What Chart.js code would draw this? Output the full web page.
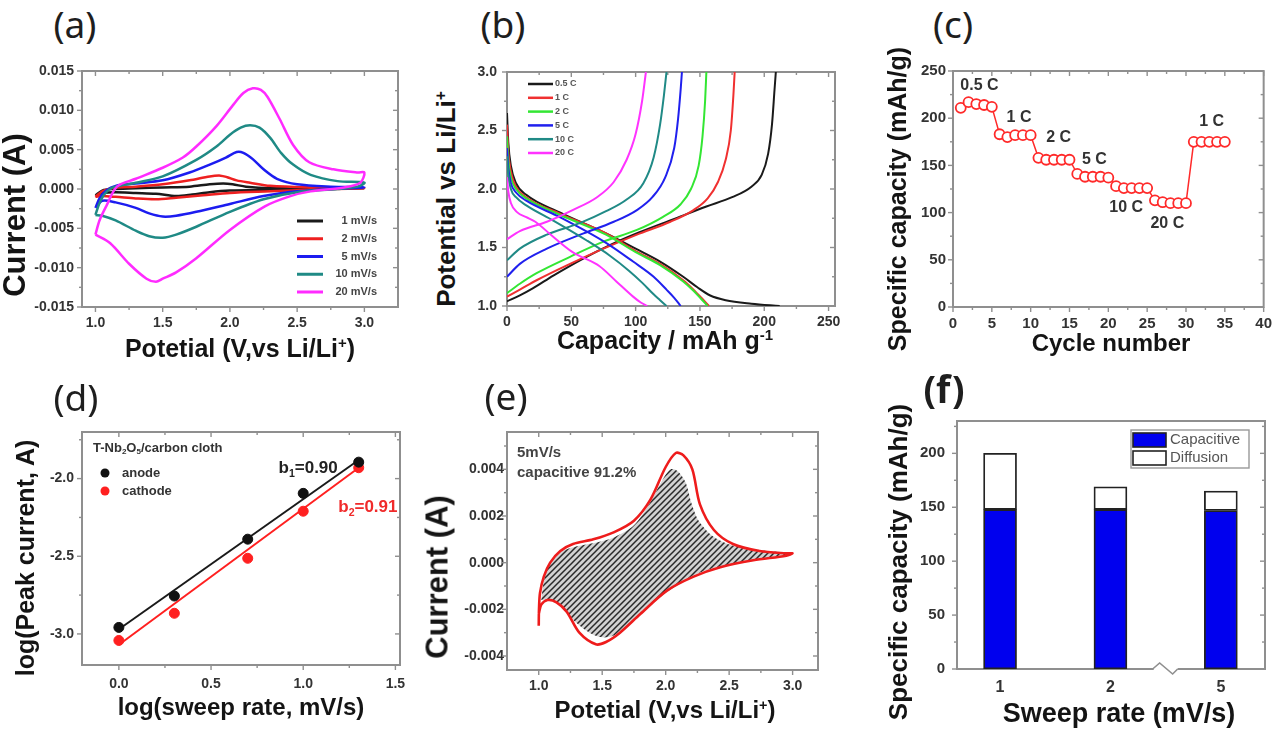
<!DOCTYPE html>
<html>
<head>
<meta charset="utf-8">
<title>T-Nb2O5 / carbon cloth</title>
<script src="https://cdn.jsdelivr.net/npm/chart.js@4.4.1/dist/chart.umd.min.js"></script>
<style>
  html, body { margin: 0; padding: 0; background: #fff; }
  body { position: relative; width: 1280px; height: 733px; overflow: hidden; font-family: 'Liberation Sans', Arial, sans-serif; }
  canvas { position: absolute; }
  .lab { position: absolute; transform: translate(-50%, -50%); font-family: 'Noto Sans', sans-serif; font-size: 37px; color: #1e1e1e; white-space: nowrap; line-height: 1; }
  .ttl { position: absolute; transform: translate(-50%, -50%); font-weight: bold; color: #141414; white-space: nowrap; line-height: 1; }
  .ttl.v { transform: translate(-50%, -50%) rotate(-90deg); }
  .ttl sup { font-size: 0.6em; vertical-align: 0.55em; line-height: 0; }
</style>
</head>
<body>
<canvas id="ca" width="425" height="290" style="left:0px;top:50px"></canvas>
<canvas id="cb" width="385" height="290" style="left:465px;top:50px"></canvas>
<canvas id="cc" width="375" height="290" style="left:905px;top:50px"></canvas>
<canvas id="cd" width="425" height="290" style="left:0px;top:415px"></canvas>
<canvas id="ce" width="395" height="290" style="left:450px;top:415px"></canvas>
<canvas id="cf" width="375" height="305" style="left:905px;top:400px"></canvas>

<div class="lab" style="left:75px;top:23px">(a)</div>
<div class="lab" style="left:503px;top:23px">(b)</div>
<div class="lab" style="left:953px;top:23px">(c)</div>
<div class="lab" style="left:76px;top:396px">(d)</div>
<div class="lab" style="left:506px;top:395px">(e)</div>
<div class="lab" style="left:944px;top:388px;font-weight:bold">(f)</div>

<div class="ttl v" style="left:14px;top:215px;font-size:31px">Current (A)</div>
<div class="ttl" style="left:240px;top:348px;font-size:25px">Potetial (V,vs Li/Li<sup>+</sup>)</div>
<div class="ttl v" style="left:446px;top:199px;font-size:26px">Potential vs Li/Li<sup>+</sup></div>
<div class="ttl" style="left:665px;top:340px;font-size:25px">Capacity / mAh g<sup>-1</sup></div>
<div class="ttl v" style="left:897px;top:199px;font-size:25px">Specific capacity (mAh/g)</div>
<div class="ttl" style="left:1111px;top:343px;font-size:24px">Cycle number</div>
<div class="ttl v" style="left:25px;top:558px;font-size:25px">log(Peak current, A)</div>
<div class="ttl" style="left:241px;top:707px;font-size:24px">log(sweep rate, mV/s)</div>
<div class="ttl v" style="left:437px;top:577px;font-size:31px">Current (A)</div>
<div class="ttl" style="left:665px;top:710px;font-size:24px">Potetial (V,vs Li/Li<sup>+</sup>)</div>
<div class="ttl v" style="left:898px;top:562px;font-size:26px">Specific capacity (mAh/g)</div>
<div class="ttl" style="left:1119px;top:713px;font-size:27px">Sweep rate (mV/s)</div>

<script>
// ---- (a) CV at several sweep rates: [V, A], anodic branch then cathodic branch
const cvRates = ['1 mV/s', '2 mV/s', '5 mV/s', '10 mV/s', '20 mV/s'];
const cv1 = [[1.0,-0.0008],[1.05,-0.0002],[1.12,0.0],[1.3,0.0001],[1.5,0.0002],[1.7,0.0003],[1.85,0.0006],[1.95,0.0007],[2.02,0.0006],[2.12,0.0003],[2.3,0.0001],[2.6,0.0001],[3.0,0.0001],
  [2.6,0.0],[2.3,-0.0001],[2.0,-0.0002],[1.85,-0.0004],[1.72,-0.0007],[1.6,-0.0009],[1.45,-0.0006],[1.3,-0.0005],[1.15,-0.0004],[1.05,-0.0005],[1.0,-0.0008]];
const cv2 = [[1.0,-0.0010],[1.05,-0.0003],[1.12,0.0001],[1.3,0.0003],[1.5,0.0006],[1.7,0.0011],[1.85,0.0016],[1.93,0.0017],[1.98,0.0015],[2.05,0.0011],[2.15,0.0008],[2.3,0.0004],[2.6,0.0002],[3.0,0.0001],
  [2.6,-0.0001],[2.3,-0.0003],[2.0,-0.0005],[1.8,-0.0008],[1.6,-0.0011],[1.45,-0.0013],[1.3,-0.0012],[1.15,-0.0010],[1.05,-0.0009],[1.0,-0.0010]];
const cv5 = [[1.0,-0.0024],[1.03,-0.0012],[1.08,-0.0002],[1.15,0.0004],[1.3,0.0007],[1.5,0.0011],[1.7,0.0021],[1.85,0.0031],[1.97,0.0040],[2.05,0.0047],[2.1,0.0046],[2.17,0.0038],[2.25,0.0025],[2.35,0.0013],[2.5,0.0006],[2.75,0.0003],[3.0,0.0002],
  [2.75,0.0],[2.5,-0.0003],[2.25,-0.0009],[2.0,-0.0019],[1.75,-0.0029],[1.6,-0.0034],[1.5,-0.0035],[1.4,-0.0031],[1.3,-0.0024],[1.15,-0.0017],[1.05,-0.0015],[1.0,-0.0024]];
const cv10 = [[1.0,-0.0033],[1.03,-0.0018],[1.07,-0.0006],[1.13,0.0002],[1.3,0.0008],[1.5,0.0016],[1.75,0.0037],[1.9,0.0054],[2.0,0.0069],[2.08,0.0078],[2.15,0.0081],[2.22,0.0078],[2.3,0.0065],[2.38,0.0046],[2.47,0.0031],[2.6,0.0018],[2.8,0.0010],[3.0,0.0008],
  [2.95,0.0003],[2.8,0.0],[2.5,-0.0004],[2.25,-0.0013],[2.0,-0.0029],[1.75,-0.0048],[1.6,-0.0058],[1.5,-0.0062],[1.4,-0.0060],[1.3,-0.0053],[1.15,-0.0040],[1.05,-0.0034],[1.0,-0.0033]];
const cv20 = [[1.0,-0.0058],[1.03,-0.0040],[1.08,-0.0022],[1.16,0.0003],[1.3,0.0013],[1.5,0.0027],[1.65,0.0040],[1.75,0.0054],[1.9,0.0080],[2.02,0.0106],[2.1,0.0122],[2.17,0.0128],[2.23,0.0126],[2.28,0.0117],[2.37,0.0089],[2.47,0.0056],[2.59,0.0034],[2.77,0.0025],[2.95,0.0021],[3.0,0.0021],
  [2.97,0.0008],[2.85,0.0002],[2.6,-0.0003],[2.45,-0.0009],[2.26,-0.0022],[2.0,-0.0052],[1.75,-0.0088],[1.6,-0.0106],[1.5,-0.0114],[1.45,-0.0118],[1.38,-0.0114],[1.25,-0.0095],[1.11,-0.0069],[1.0,-0.0058]];
const cvLoops = [cv1, cv2, cv5, cv10, cv20];
const cvVTicks = [1.0, 1.5, 2.0, 2.5, 3.0];
const cvITicks = [-0.015, -0.01, -0.005, 0, 0.005, 0.01, 0.015];

// ---- (b) charge / discharge profiles: [mAh/g, V]
const gcdRates = ['0.5 C', '1 C', '2 C', '5 C', '10 C', '20 C'];
const chg05 = [[0,1.04],[10,1.09],[20,1.15],[36,1.26],[60,1.41],[80,1.52],[103,1.63],[129,1.74],[155,1.85],[175,1.93],[190,2.02],[198,2.12],[203,2.3],[206,2.55],[208,2.85],[209,3.0]];
const chg1 = [[0,1.08],[10,1.14],[23,1.22],[49,1.36],[75,1.49],[101,1.61],[127,1.72],[145,1.82],[156,1.92],[164,2.06],[170,2.25],[174,2.5],[176,2.8],[177,3.0]];
const chg2 = [[0,1.11],[10,1.19],[23,1.28],[49,1.42],[75,1.55],[101,1.65],[121,1.76],[135,1.87],[143,2.0],[149,2.2],[152,2.45],[154,2.75],[155,3.0]];
const chg5 = [[0,1.25],[10,1.36],[31,1.49],[57,1.61],[83,1.72],[101,1.82],[113,1.93],[123,2.1],[130,2.35],[133,2.6],[135,2.85],[136,3.0]];
const chg10 = [[0,1.39],[10,1.49],[31,1.61],[57,1.71],[77,1.81],[93,1.91],[106,2.05],[114,2.27],[119,2.55],[122,2.8],[124,3.0]];
const chg20 = [[0,1.57],[10,1.64],[31,1.72],[51,1.82],[70,1.93],[83,2.06],[93,2.25],[100,2.47],[105,2.75],[108,3.0]];
const dis05 = [[0,2.65],[1,2.4],[3,2.2],[7,2.05],[15,1.95],[41,1.8],[77,1.62],[100,1.49],[119,1.38],[137,1.25],[148,1.16],[158,1.09],[170,1.05],[190,1.02],[212,1.0]];
const dis1 = [[0,2.55],[1,2.32],[3,2.15],[7,2.02],[15,1.93],[41,1.79],[77,1.62],[100,1.47],[119,1.36],[137,1.22],[145,1.14],[152,1.06],[157,1.0]];
const dis2 = [[0,2.45],[1,2.25],[3,2.1],[7,2.0],[15,1.92],[41,1.78],[77,1.61],[100,1.46],[119,1.35],[137,1.21],[145,1.13],[151,1.06],[156,1.0]];
const dis5 = [[0,2.35],[1,2.18],[3,2.05],[7,1.97],[15,1.9],[41,1.76],[77,1.54],[98,1.38],[114,1.25],[124,1.14],[130,1.07],[135,1.0]];
const dis10 = [[0,2.28],[1,2.12],[3,2.0],[7,1.93],[15,1.86],[36,1.73],[62,1.56],[80,1.43],[95,1.3],[105,1.2],[114,1.1],[119,1.05],[124,1.0]];
const dis20 = [[0,2.1],[1,1.98],[3,1.88],[8,1.8],[15,1.76],[22,1.72],[35,1.6],[51,1.46],[72,1.34],[85,1.21],[98,1.08],[104,1.03],[109,1.0]];
const gcdCharge = [chg05, chg1, chg2, chg5, chg10, chg20];
const gcdDischarge = [dis05, dis1, dis2, dis5, dis10, dis20];
const capTicks = [0, 50, 100, 150, 200, 250];
const potTicks = [1.0, 1.5, 2.0, 2.5, 3.0];

// ---- (c) rate capability
const cycles = Array.from({ length: 35 }, (_, i) => i + 1);
const rateCap = [211,217,215,214,212, 183,180,182,182,182, 158,156,156,156,156, 141,138,138,138,137,
  128,126,126,126,126, 113,111,110,110,110, 175,175,175,175,175];
const rateNotes = ['0.5 C', '1 C', '2 C', '5 C', '10 C', '20 C', '1 C'];
const rateNoteAt = [[3.4,235],[8.5,201],[13.6,179],[18.2,156],[22.3,105],[27.6,88],[33.3,196]];
const cycleTicks = [0, 5, 10, 15, 20, 25, 30, 35, 40];
const specTicks = [0, 50, 100, 150, 200, 250];

// ---- (d) b-value analysis
const logRate = [0, 0.301, 0.699, 1.0, 1.301];
const anodePeak = [-2.958, -2.756, -2.39, -2.095, -1.894];
const cathodePeak = [-3.042, -2.867, -2.513, -2.21, -1.93];
const fitX = [0, 1.301];
const anodeFit = [-2.97, -1.88];
const cathodeFit = [-3.07, -1.93];
const logRateTicks = [0, 0.5, 1.0, 1.5];
const logIpTicks = [-3.0, -2.5, -2.0];

// ---- (e) 5 mV/s CV with capacitive contribution
const cvTotal = [[1.0,-0.0027],[1.002,-0.0020],[1.01,-0.0013],[1.04,-0.0006],[1.09,0.0],[1.17,0.0005],[1.27,0.0008],[1.43,0.0010],[1.59,0.0013],[1.75,0.0018],[1.88,0.0027],[2.0,0.0041],[2.08,0.0047],[2.14,0.0046],[2.21,0.0040],[2.27,0.0025],[2.38,0.0014],[2.53,0.0008],[2.74,0.0005],[2.95,0.0004],[3.0,0.0004],
  [2.95,0.0003],[2.69,0.0001],[2.43,-0.0002],[2.22,-0.0006],[2.01,-0.0012],[1.8,-0.0022],[1.64,-0.0030],[1.53,-0.0034],[1.45,-0.0035],[1.32,-0.0030],[1.22,-0.0021],[1.14,-0.0017],[1.07,-0.0016],[1.02,-0.0018],[1.0,-0.0022]];
const cvCapacitive = [[1.02,-0.0016],[1.04,-0.0008],[1.08,-0.0001],[1.15,0.0004],[1.3,0.0007],[1.48,0.0009],[1.6,0.0011],[1.75,0.0016],[1.88,0.0026],[1.97,0.0035],[2.04,0.0040],[2.1,0.0039],[2.16,0.0034],[2.2,0.0026],[2.26,0.0018],[2.38,0.0011],[2.55,0.0007],[2.8,0.0005],[3.0,0.0004],
  [2.8,0.0002],[2.6,0.0],[2.4,-0.0002],[2.2,-0.0006],[2.0,-0.0013],[1.85,-0.0020],[1.72,-0.0026],[1.6,-0.0031],[1.5,-0.0032],[1.4,-0.0030],[1.28,-0.0025],[1.18,-0.0019],[1.1,-0.0016],[1.02,-0.0016]];
const cvETicksI = [-0.004, -0.002, 0, 0.002, 0.004];

// ---- (f) capacitive / diffusion split
const sweepLabels = ['1', '2', '5'];
const sweepSlot = [1, 2, 3];
const capacitive = [148, 148, 147];
const diffusion = [52, 21, 18];
const capFTicks = [0, 50, 100, 150, 200];

// ---------------------------------------------------------------
const FONT = "'Liberation Sans', Arial, sans-serif";
Chart.defaults.font.family = FONT;
Chart.defaults.font.weight = 'bold';
Chart.defaults.font.size = 14;
Chart.defaults.color = '#333';
Chart.defaults.animation = false;
Chart.defaults.responsive = false;
Chart.defaults.devicePixelRatio = 1;
Chart.defaults.plugins.legend.display = false;
Chart.defaults.plugins.tooltip.enabled = false;
Chart.defaults.elements.point.radius = 0;

const pts = arr => arr.map(([x, y]) => ({ x, y }));

// plot box + Origin style tick marks
const framePlugin = {
  id: 'frame',
  beforeDatasetsDraw(chart, args, o) {
    const { ctx, chartArea: a, scales: { x, y } } = chart;
    const marks = s => {
      const v = s.ticks.map(t => t.value);
      const out = v.map(val => [val, 5]);
      if (v.length > 1) {
        const st = v[1] - v[0];
        for (let i = -1; i < v.length; i++) {
          const m = v[0] + (i + 0.5) * st;
          if (m > s.min && m < s.max) out.push([m, 3]);
        }
      }
      return out;
    };
    ctx.save();
    ctx.strokeStyle = '#8f8f8f';
    ctx.lineWidth = 1.4;
    const seg = (x1, y1, x2, y2) => { ctx.beginPath(); ctx.moveTo(x1, y1); ctx.lineTo(x2, y2); ctx.stroke(); };
    if (o.xTicks !== false) {
      marks(x).forEach(([v, l]) => {
        const p = x.getPixelForValue(v);
        seg(p, a.bottom, p, a.bottom + l);
        seg(p, a.top, p, a.top + l);
      });
    }
    marks(y).forEach(([v, l]) => {
      const p = y.getPixelForValue(v);
      seg(a.left - l, p, a.left, p);
      seg(a.right, p, a.right - l, p);
    });
    ctx.lineWidth = 2;
    ctx.strokeRect(a.left, a.top, a.right - a.left, a.bottom - a.top);
    ctx.restore();
  }
};
Chart.register(framePlugin);

// chart area placed on the page pixel box of each panel
function layoutFor(id, area) {
  const c = document.getElementById(id);
  const left = parseInt(c.style.left), top = parseInt(c.style.top);
  return {
    padding: { left: 0, top: area.t - top, right: left + c.width - area.r, bottom: 0 },
    yFit: s => { s.width = area.l - left; },
    xFit: s => { s.height = top + c.height - area.b; }
  };
}

function linAxis(min, max, ticks, fmt, fit, tickOpts) {
  return {
    type: 'linear', min, max, offset: false,
    grid: { display: false, drawTicks: false, offset: false },
    border: { display: false },
    afterBuildTicks: s => { s.ticks = ticks.map(value => ({ value })); },
    afterFit: fit,
    ticks: Object.assign({ autoSkip: false, maxRotation: 0, minRotation: 0, padding: 8, callback: fmt }, tickOpts || {})
  };
}

function richText(ctx, parts, x, y, size, color) {
  ctx.fillStyle = color;
  parts.forEach(p => {
    const s = p.sub ? size * 0.62 : size;
    ctx.font = 'bold ' + s + 'px ' + FONT;
    ctx.fillText(p.t, x, y + (p.sub ? size * 0.32 : 0));
    x += ctx.measureText(p.t).width;
  });
}

// ---------------------------------------------------------------
// (a)
const cvColors = ['#1a1a1a', '#ee2020', '#1c1cf0', '#1f8a85', '#ff2bff'];
(function () {
  const L = layoutFor('ca', { l: 82, t: 71, r: 398, b: 307 });
  new Chart(document.getElementById('ca'), {
    type: 'line',
    data: {
      datasets: cvLoops.map((d, i) => ({
        label: cvRates[i], data: pts(d), borderColor: cvColors[i], borderWidth: 2.5, tension: 0.3, fill: false
      })).reverse()
    },
    options: {
      layout: { padding: L.padding },
      scales: {
        x: linAxis(0.9, 3.25, cvVTicks, v => v.toFixed(1), L.xFit),
        y: linAxis(-0.015, 0.015, cvITicks, v => v.toFixed(3), L.yFit)
      }
    },
    plugins: [{
      id: 'legendA',
      afterDraw(chart) {
        const { ctx, chartArea: a } = chart;
        ctx.save();
        ctx.font = 'bold 11px ' + FONT;
        ctx.textAlign = 'right';
        ctx.textBaseline = 'middle';
        cvRates.forEach((name, i) => {
          const y = a.bottom - 86 + i * 17.75;
          ctx.strokeStyle = cvColors[i];
          ctx.lineWidth = 3;
          ctx.beginPath(); ctx.moveTo(a.right - 101, y); ctx.lineTo(a.right - 75, y); ctx.stroke();
          ctx.fillStyle = '#444';
          ctx.fillText(name, a.right - 21, y);
        });
        ctx.restore();
      }
    }]
  });
})();

// (b)
const gcdColors = ['#1a1a1a', '#f03030', '#33e633', '#2020ee', '#208a86', '#ff33ff'];
(function () {
  const L = layoutFor('cb', { l: 507, t: 72, r: 835, b: 306 });
  const sets = [];
  gcdRates.forEach((name, i) => {
    sets.push({ label: name + ' discharge', data: pts(gcdDischarge[i]), borderColor: gcdColors[i], borderWidth: 2, cubicInterpolationMode: 'monotone' });
    sets.push({ label: name + ' charge', data: pts(gcdCharge[i]), borderColor: gcdColors[i], borderWidth: 2, cubicInterpolationMode: 'monotone' });
  });
  new Chart(document.getElementById('cb'), {
    type: 'line',
    data: { datasets: sets.reverse() },
    options: {
      layout: { padding: L.padding },
      scales: {
        x: linAxis(0, 255, capTicks, v => String(v), L.xFit),
        y: linAxis(1.0, 3.0, potTicks, v => v.toFixed(1), L.yFit, { padding: 10 })
      }
    },
    plugins: [{
      id: 'legendB',
      afterDraw(chart) {
        const { ctx, chartArea: a } = chart;
        ctx.save();
        ctx.font = 'bold 9px ' + FONT;
        ctx.textBaseline = 'middle';
        gcdRates.forEach((name, i) => {
          const y = a.top + 12 + i * 13.8;
          ctx.strokeStyle = gcdColors[i];
          ctx.lineWidth = 2.5;
          ctx.beginPath(); ctx.moveTo(a.left + 21, y); ctx.lineTo(a.left + 46, y); ctx.stroke();
          ctx.fillStyle = '#555';
          ctx.fillText(name, a.left + 48, y);
        });
        ctx.restore();
      }
    }]
  });
})();

// (c)
(function () {
  const L = layoutFor('cc', { l: 953, t: 71, r: 1270, b: 307 });
  new Chart(document.getElementById('cc'), {
    type: 'line',
    data: {
      datasets: [{
        label: 'Specific capacity',
        data: cycles.map((c, i) => ({ x: c, y: rateCap[i] })),
        borderColor: '#ff2a2a', borderWidth: 1.5,
        pointRadius: 5, pointBorderWidth: 1.8, pointBorderColor: '#ff2a2a', pointBackgroundColor: '#fff'
      }]
    },
    options: {
      layout: { padding: L.padding },
      scales: {
        x: linAxis(0, 40, cycleTicks, v => String(v), L.xFit, { font: { size: 15 } }),
        y: linAxis(0, 250, specTicks, v => String(v), L.yFit, { padding: 7, font: { size: 15 } })
      }
    },
    plugins: [{
      id: 'notesC',
      afterDraw(chart) {
        const { ctx, scales: { x, y } } = chart;
        ctx.save();
        ctx.font = 'bold 16px ' + FONT;
        ctx.fillStyle = '#333';
        ctx.textAlign = 'center';
        ctx.textBaseline = 'middle';
        rateNotes.forEach((t, i) => {
          ctx.fillText(t, x.getPixelForValue(rateNoteAt[i][0]), y.getPixelForValue(rateNoteAt[i][1]));
        });
        ctx.restore();
      }
    }]
  });
})();

// (d)
(function () {
  const L = layoutFor('cd', { l: 82, t: 432, r: 400, b: 665 });
  const bLabels = [
    { parts: [{ t: 'b' }, { t: '1', sub: true }, { t: '=0.90' }], at: [0.866, -1.936], color: '#222' },
    { parts: [{ t: 'b' }, { t: '2', sub: true }, { t: '=0.91' }], at: [1.19, -2.185], color: '#f02a2a' }
  ];
  new Chart(document.getElementById('cd'), {
    type: 'line',
    data: {
      datasets: [
        { label: 'anode', data: logRate.map((x, i) => ({ x, y: anodePeak[i] })), showLine: false, pointRadius: 5, pointBackgroundColor: '#111', pointBorderColor: '#111' },
        { label: 'cathode', data: logRate.map((x, i) => ({ x, y: cathodePeak[i] })), showLine: false, pointRadius: 5, pointBackgroundColor: '#ff2020', pointBorderColor: '#ff2020' },
        { label: 'anode fit', data: fitX.map((x, i) => ({ x, y: anodeFit[i] })), borderColor: '#1a1a1a', borderWidth: 2 },
        { label: 'cathode fit', data: fitX.map((x, i) => ({ x, y: cathodeFit[i] })), borderColor: '#ff2020', borderWidth: 2 }
      ]
    },
    options: {
      layout: { padding: L.padding },
      scales: {
        x: linAxis(-0.2, 1.525, logRateTicks, v => v.toFixed(1), L.xFit, { padding: 11 }),
        y: linAxis(-3.2, -1.7, logIpTicks, v => v.toFixed(1), L.yFit)
      }
    },
    plugins: [{
      id: 'notesD',
      afterDraw(chart) {
        const { ctx, chartArea: a, scales: { x, y } } = chart;
        ctx.save();
        ctx.textBaseline = 'middle';
        ctx.textAlign = 'left';
        richText(ctx, [{ t: 'T-Nb' }, { t: '2', sub: true }, { t: 'O' }, { t: '5', sub: true }, { t: '/carbon cloth' }], a.left + 11, a.top + 16, 13, '#333');
        const dots = [['anode', '#111'], ['cathode', '#ff2020']];
        dots.forEach(([t, c], i) => {
          const yy = a.top + 41 + i * 18;
          ctx.fillStyle = c;
          ctx.beginPath(); ctx.arc(a.left + 23, yy, 4.5, 0, Math.PI * 2); ctx.fill();
          ctx.font = 'bold 13px ' + FONT;
          ctx.fillStyle = '#333';
          ctx.fillText(t, a.left + 40, yy);
        });
        bLabels.forEach(b => richText(ctx, b.parts, x.getPixelForValue(b.at[0]), y.getPixelForValue(b.at[1]), 17, b.color));
        ctx.restore();
      }
    }]
  });
})();

// (e)
(function () {
  const cv = document.getElementById('ce');
  const tile = document.createElement('canvas');
  tile.width = 6; tile.height = 6;
  const g = tile.getContext('2d');
  g.fillStyle = '#d2d2d2'; g.fillRect(0, 0, 6, 6);
  g.strokeStyle = '#2a2a2a'; g.lineWidth = 1.5;
  g.beginPath();
  g.moveTo(-1, 7); g.lineTo(7, -1);
  g.moveTo(-1, 1); g.lineTo(1, -1);
  g.moveTo(5, 7); g.lineTo(7, 5);
  g.stroke();
  const hatch = cv.getContext('2d').createPattern(tile, 'repeat');

  const L = layoutFor('ce', { l: 507, t: 432, r: 818, b: 670 });
  new Chart(cv, {
    type: 'line',
    data: {
      datasets: [
        { label: '5 mV/s', data: pts(cvTotal), borderColor: '#ee1c1c', borderWidth: 2.6, tension: 0.3, fill: false },
        { label: 'capacitive', data: pts(cvCapacitive), borderWidth: 0, borderColor: 'rgba(0,0,0,0)', backgroundColor: hatch, tension: 0.3, fill: 'shape' }
      ]
    },
    options: {
      layout: { padding: L.padding },
      scales: {
        x: linAxis(0.75, 3.2, cvVTicks, v => v.toFixed(1), L.xFit),
        y: linAxis(-0.0046, 0.0056, cvETicksI, v => v.toFixed(3), L.yFit, { padding: 3 })
      }
    },
    plugins: [{
      id: 'notesE',
      afterDraw(chart) {
        const { ctx, chartArea: a } = chart;
        ctx.save();
        ctx.font = 'bold 15px ' + FONT;
        ctx.fillStyle = '#444';
        ctx.textBaseline = 'middle';
        ctx.fillText('5mV/s', a.left + 10, a.top + 21);
        ctx.fillText('capacitive 91.2%', a.left + 10, a.top + 41);
        ctx.restore();
      }
    }]
  });
})();

// (f)
(function () {
  const L = layoutFor('cf', { l: 957, t: 418, r: 1265, b: 669 });
  new Chart(document.getElementById('cf'), {
    type: 'bar',
    data: {
      datasets: [
        { label: 'Capacitive', data: sweepSlot.map((x, i) => ({ x, y: capacitive[i] })), backgroundColor: '#0000ee', borderColor: '#222', borderWidth: 1.8, borderSkipped: false, barThickness: 33 },
        { label: 'Diffusion', data: sweepSlot.map((x, i) => ({ x, y: diffusion[i] })), backgroundColor: '#fff', borderColor: '#222', borderWidth: 1.8, borderSkipped: false, barThickness: 33 }
      ]
    },
    options: {
      layout: { padding: L.padding },
      scales: {
        x: Object.assign(linAxis(0.61, 3.4, sweepSlot, (v, i) => sweepLabels[i], L.xFit, { padding: 9, font: { size: 16 } }), { stacked: true }),
        y: Object.assign(linAxis(0, 230, capFTicks, v => String(v), L.yFit, { padding: 12, font: { size: 15 } }), { stacked: true })
      },
      plugins: { frame: { xTicks: false } }
    },
    plugins: [{
      id: 'notesF',
      afterDraw(chart) {
        const { ctx, chartArea: a, scales: { x } } = chart;
        ctx.save();
        // axis break between 2 and 5
        const px = x.getPixelForValue(2.5);
        ctx.fillStyle = '#fff';
        ctx.fillRect(px - 12, a.bottom - 3, 24, 6);
        ctx.strokeStyle = '#8f8f8f';
        ctx.lineWidth = 1.6;
        ctx.beginPath();
        ctx.moveTo(px - 13, a.bottom); ctx.lineTo(px - 6, a.bottom - 6); ctx.lineTo(px + 7, a.bottom + 5); ctx.lineTo(px + 12, a.bottom);
        ctx.stroke();
        // legend
        const lx = a.right - 134, ly = a.top + 9;
        ctx.strokeStyle = '#999';
        ctx.lineWidth = 1.4;
        ctx.strokeRect(lx, ly, 118, 38);
        const items = [['Capacitive', '#0000ee'], ['Diffusion', '#fff']];
        items.forEach(([t, c], i) => {
          const yy = ly + 3 + i * 18;
          ctx.fillStyle = c;
          ctx.fillRect(lx + 2, yy, 33, 14);
          ctx.strokeStyle = '#222';
          ctx.lineWidth = 1.6;
          ctx.strokeRect(lx + 2, yy, 33, 14);
          ctx.fillStyle = '#555';
          ctx.font = '15px ' + FONT;
          ctx.textBaseline = 'middle';
          ctx.fillText(t, lx + 39, yy + 7);
        });
        ctx.restore();
      }
    }]
  });
})();
</script>
</body>
</html>
